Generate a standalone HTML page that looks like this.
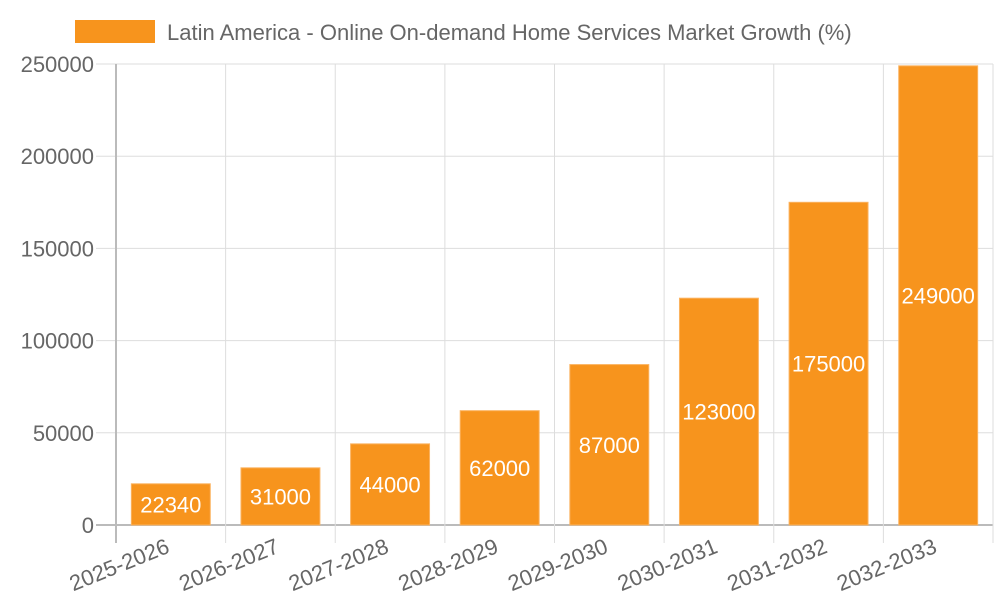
<!DOCTYPE html>
<html><head><meta charset="utf-8"><style>
body{margin:0;background:#fff;font-family:"Liberation Sans",sans-serif}
svg text{font-family:"Liberation Sans",sans-serif}
</style></head><body>
<svg id="chart" width="1000" height="600" xmlns="http://www.w3.org/2000/svg">
<rect x="75" y="20" width="80" height="23" fill="#f7941d"/>
<text x="167" y="40" font-size="22" fill="#666">Latin America - Online On-demand Home Services Market Growth (%)</text>
<g id="grid"></g><g id="bars"></g><g id="labels"></g>
</svg>
<script>
const categories=["2025-2026","2026-2027","2027-2028","2028-2029","2029-2030","2030-2031","2031-2032","2032-2033"];
const values=[22340,31000,44000,62000,87000,123000,175000,249000];
const yTicks=[0,50000,100000,150000,200000,250000];
const X0=116,X1=993,Y0=525,Y1=64,YMAX=250000;
const ns="http://www.w3.org/2000/svg";
const bw=(X1-X0)/categories.length;
const y=v=>Y0-(v/YMAX)*(Y0-Y1);
const x=i=>X0+i*bw;
function mk(t,a,p,txt){const e=document.createElementNS(ns,t);for(const k in a)e.setAttribute(k,a[k]);if(txt!==undefined)e.textContent=txt;document.getElementById(p).appendChild(e);return e;}
yTicks.forEach(v=>{
 const l=mk("line",{x1:96,x2:X1,y1:y(v),y2:y(v),stroke:v===0?"#bbb":"#ddd","stroke-width":v===0?2:1},"grid");
 
 
 const t=mk("text",{x:94,y:y(v)+8,"text-anchor":"end","font-size":22,fill:"#666"},"labels",String(v));
 
 
});
for(let i=0;i<=categories.length;i++){
 const l=mk("line",{x1:x(i),x2:x(i),y1:Y1,y2:543,stroke:i===0?"#bbb":"#ddd","stroke-width":i===0?2:1},"grid");
 
 
}
categories.forEach((c,i)=>{
 const cx=x(i)+bw/2, w=bw*0.72;
 const r=mk("rect",{x:cx-w/2,y:y(values[i]),width:w,height:Y0-y(values[i]),fill:"#f7941d",stroke:"#fbb360","stroke-width":1},"bars");
 
 
 const v=mk("text",{x:cx,y:(y(values[i])+Y0)/2+8,"text-anchor":"middle","font-size":22,fill:"#fff"},"labels",String(values[i]));
 
 
 const t=mk("text",{x:cx,y:552,"text-anchor":"end","font-size":22,fill:"#666",transform:`rotate(-22 ${cx} 552)`},"labels",c);
 
 
});
</script>
</body></html>
